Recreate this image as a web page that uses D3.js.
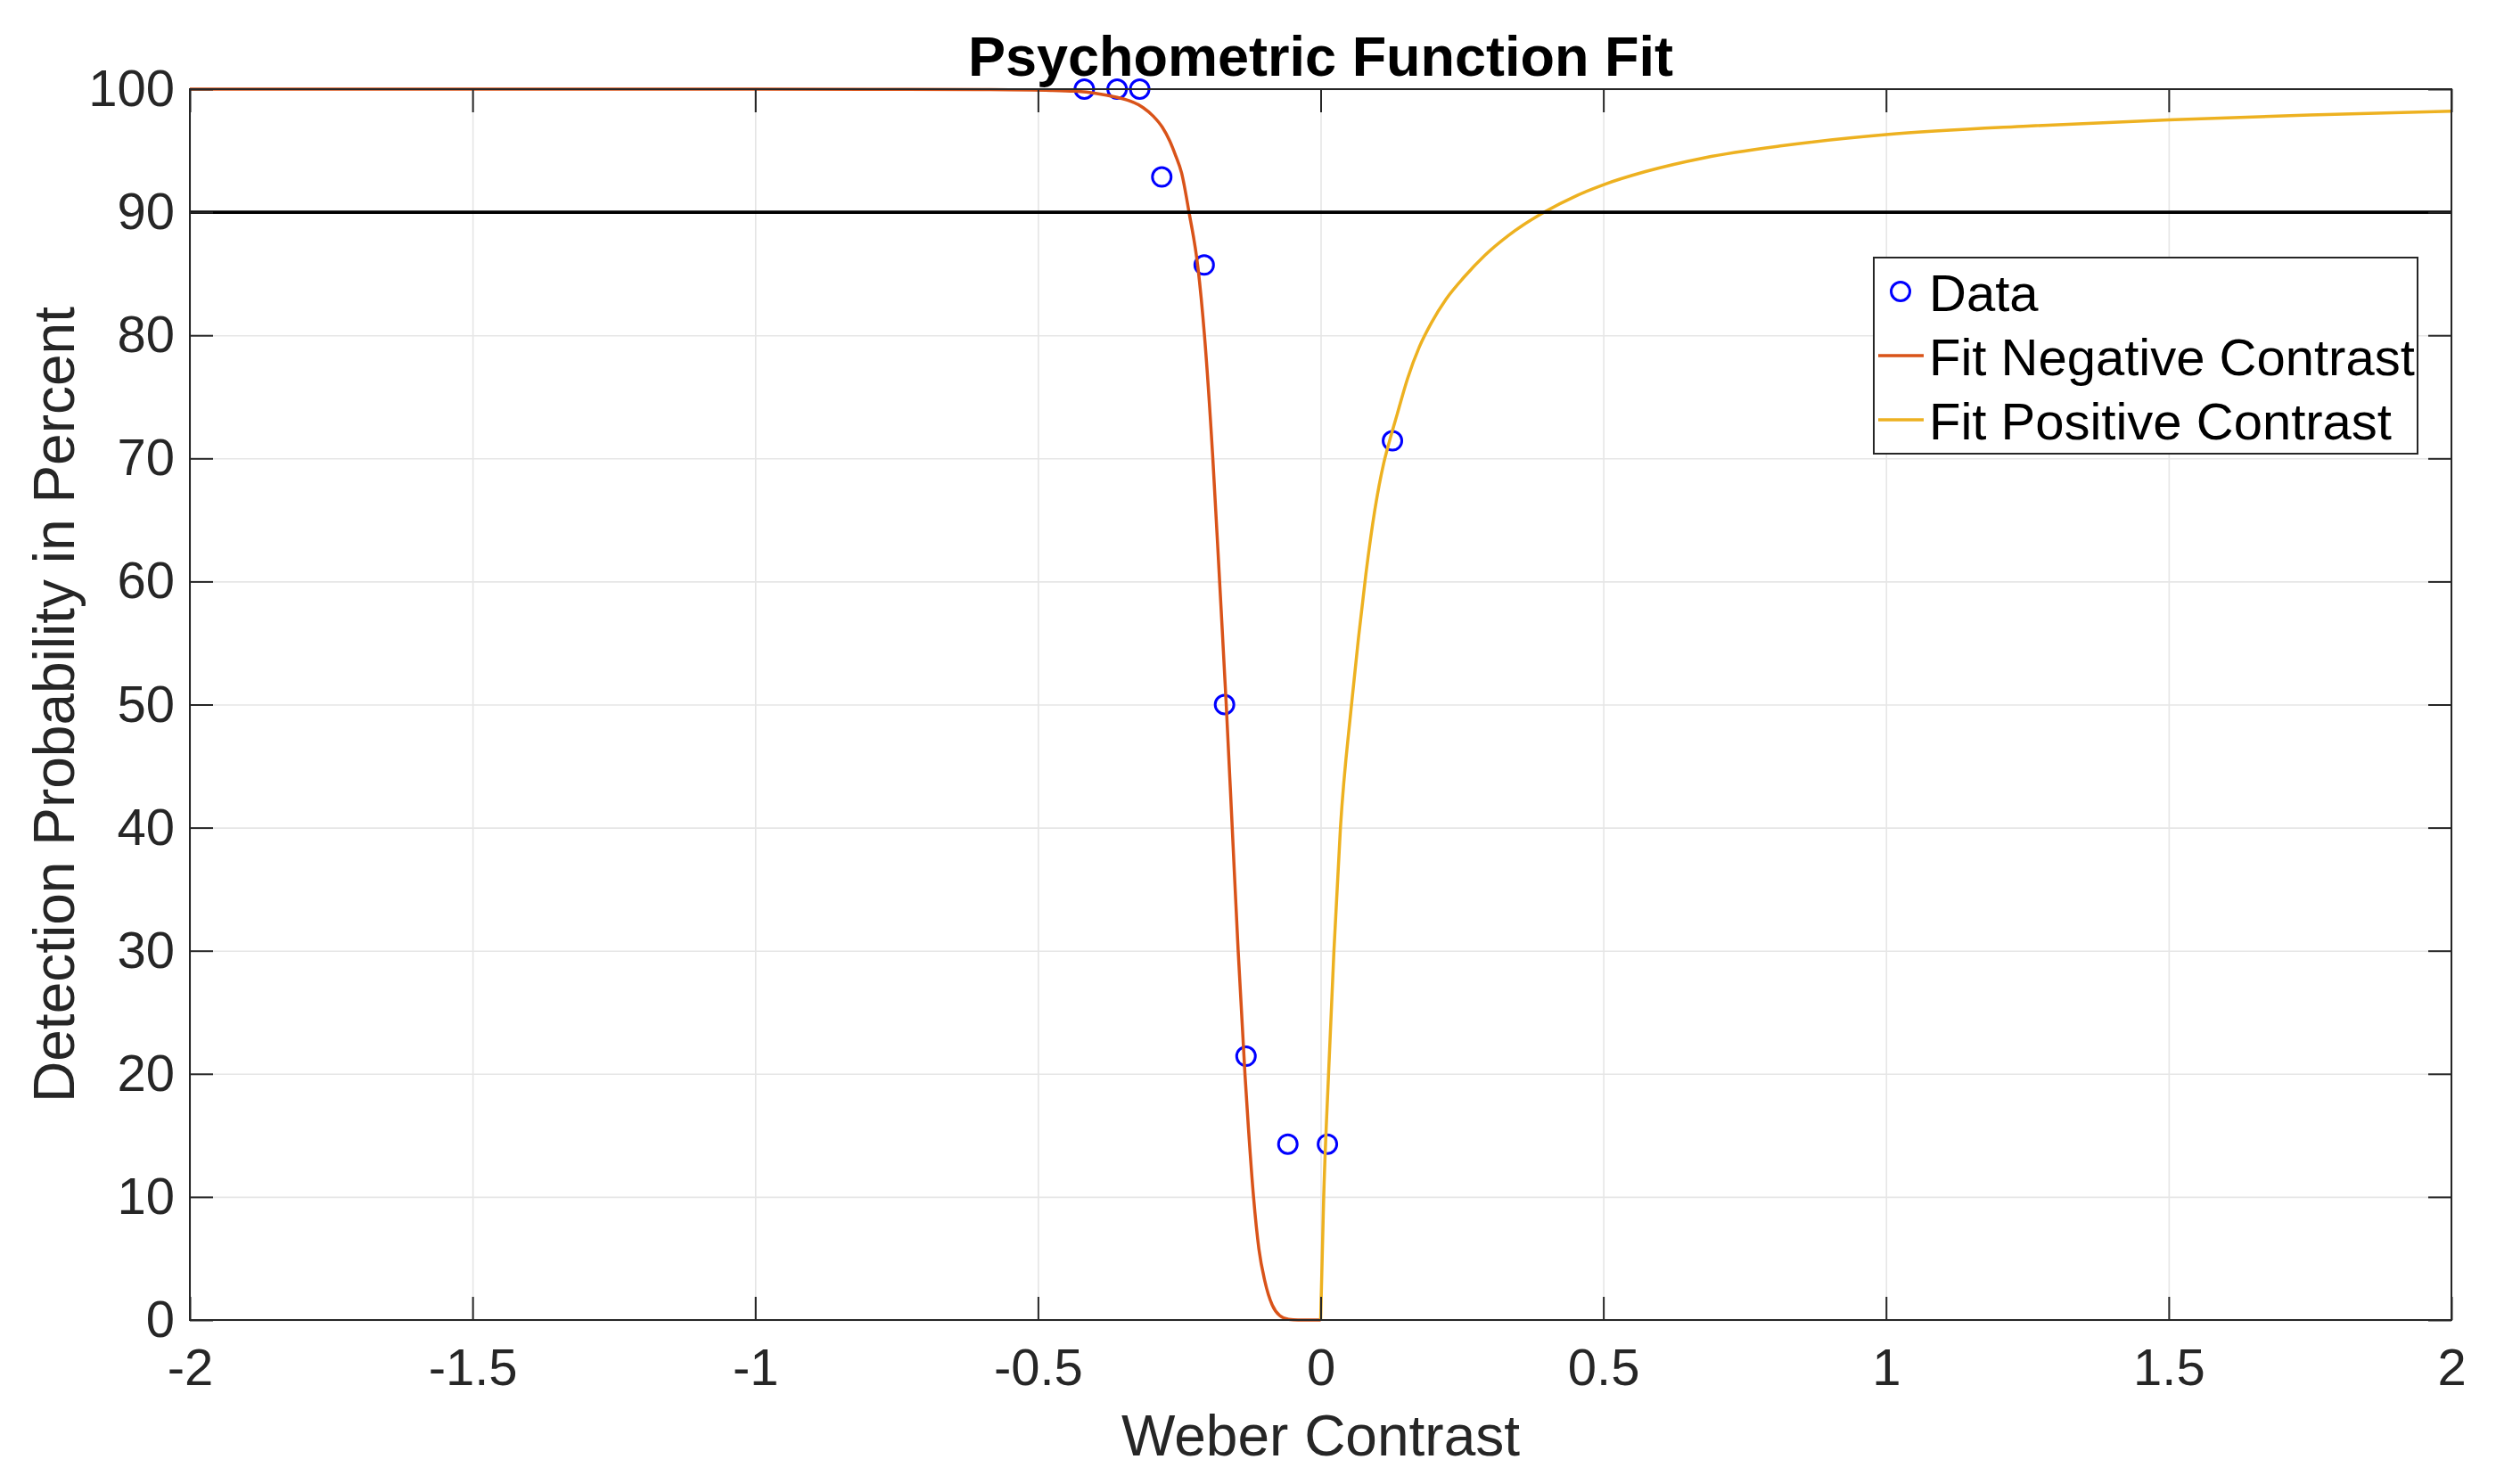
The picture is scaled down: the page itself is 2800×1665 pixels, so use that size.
<!DOCTYPE html>
<html>
<head>
<meta charset="utf-8">
<script src="https://cdn.jsdelivr.net/npm/d3@7"></script>
<style>
  body { margin: 0; background: #fff; }
  svg { display: block; font-family: "Liberation Sans", Arial, Helvetica, sans-serif; }
</style>
</head>
<body>
<svg id="chart"></svg>
<script>

var xTicks = [-2, -1.5, -1, -0.5, 0, 0.5, 1, 1.5, 2];
var xTickLabels = ["-2", "-1.5", "-1", "-0.5", "0", "0.5", "1", "1.5", "2"];
var yTicks = [0, 10, 20, 30, 40, 50, 60, 70, 80, 90, 100];
var yTickLabels = ["0", "10", "20", "30", "40", "50", "60", "70", "80", "90", "100"];

// measured points (Weber contrast, percent detected)
var dataX = [-0.418, -0.360, -0.320, -0.281, -0.206, -0.170, -0.132, -0.058, 0.012, 0.127];
var dataY = [100, 100, 100, 92.86, 85.71, 50, 21.43, 14.29, 14.29, 71.43];

// fitted curve, negative contrast
var negFitX = [-2, -1.2, -0.8, -0.6, -0.477, -0.435, -0.398, -0.362, -0.335, -0.314, -0.296,
  -0.28, -0.267, -0.2565, -0.246, -0.2328, -0.217, -0.2055, -0.1907,
  -0.1787, -0.167, -0.1564, -0.1459, -0.1339, -0.1276, -0.1187, -0.1093, -0.0987, -0.0856,
  -0.0724, -0.0566, -0.04, 0];
var negFitY = [100, 100, 99.99, 99.96, 99.9, 99.83, 99.66, 99.35, 99.0, 98.5, 97.8,
  96.9, 95.8, 94.6, 93.2, 90, 85.5, 80, 70,
  60, 50, 40, 30, 20, 15.5, 10, 5.8, 3.16, 1.21,
  0.36, 0.05, 0, 0];

// fitted curve, positive contrast
var posFitX = [0, 0.0054, 0.014, 0.0235, 0.035, 0.0537, 0.0669, 0.08, 0.0958, 0.1115, 0.1221,
  0.1352, 0.1536, 0.1746, 0.1957, 0.222, 0.2535, 0.2904, 0.3323, 0.3954, 0.4533, 0.5,
  0.5743, 0.6793, 0.8161, 1.0, 1.25, 1.5, 1.75, 2.0];
var posFitY = [0, 10, 20, 30, 40, 49.6, 55.4, 60.6, 65.8, 69.6, 71.46,
  73.56, 76.47, 79.06, 81.0, 82.95, 84.72, 86.5, 88.12, 90, 91.36, 92.23,
  93.3, 94.43, 95.4, 96.3, 97.0, 97.5, 97.9, 98.2];

var threshold = 90;

var legendNames = ["Data", "Fit Negative Contrast", "Fit Positive Contrast"];

var svgWidth = 2800, svgHeight = 1665;
var plotLeft = 213, plotRight = 2750, plotTop = 100, plotBottom = 1481;
var tickLen = 26;
var axisColor = "#262626";

var svg = d3.select("#chart")
    .attr("width", svgWidth)
    .attr("height", svgHeight);

svg.append("rect")
    .attr("width", svgWidth)
    .attr("height", svgHeight)
    .style("fill", "#fff");

var x = d3.scaleLinear().domain([-2, 2]).range([plotLeft, plotRight]);
var y = d3.scaleLinear().domain([0, 100]).range([plotBottom, plotTop]);

// grid
svg.append("g")
    .attr("transform", "translate(0," + plotBottom + ")")
    .call(d3.axisBottom(x).tickValues(xTicks).tickSize(-(plotBottom - plotTop)).tickFormat(""))
    .call(function(g) {
        g.select(".domain").remove();
        g.selectAll("line").style("stroke", "#e6e6e6").style("stroke-width", 1.6);
    });

svg.append("g")
    .attr("transform", "translate(" + plotLeft + ",0)")
    .call(d3.axisLeft(y).tickValues(yTicks).tickSize(-(plotRight - plotLeft)).tickFormat(""))
    .call(function(g) {
        g.select(".domain").remove();
        g.selectAll("line").style("stroke", "#e6e6e6").style("stroke-width", 1.6);
    });

// data circles
svg.selectAll("circle.data")
    .data(dataX)
    .enter()
    .append("circle")
    .attr("class", "data")
    .attr("cx", function(d) { return x(d); })
    .attr("cy", function(d, i) { return y(dataY[i]); })
    .attr("r", 10.5)
    .style("fill", "none")
    .style("stroke", "#0000ff")
    .style("stroke-width", 3);

var line = d3.line()
    .x(function(d) { return x(d[0]); })
    .y(function(d) { return y(d[1]); })
    .curve(d3.curveMonotoneX);

svg.append("path")
    .datum(d3.zip(negFitX, negFitY))
    .attr("d", line)
    .style("fill", "none")
    .style("stroke", "#d95319")
    .style("stroke-width", 3.5);

svg.append("path")
    .datum(d3.zip(posFitX, posFitY))
    .attr("d", line)
    .style("fill", "none")
    .style("stroke", "#edb120")
    .style("stroke-width", 3.5);

svg.append("line")
    .attr("x1", x(-2))
    .attr("x2", x(2))
    .attr("y1", y(threshold))
    .attr("y2", y(threshold))
    .style("stroke", "#000")
    .style("stroke-width", 3.8);

// axes, ticks pointing inward on all four sides
function styleAxis(g) {
    g.select(".domain").remove();
    g.selectAll("line").style("stroke", axisColor).style("stroke-width", 2);
    g.selectAll("text").style("fill", axisColor).style("font-size", "58px");
}

svg.append("g")
    .attr("transform", "translate(0," + plotBottom + ")")
    .call(d3.axisBottom(x).tickValues(xTicks).tickSize(-tickLen).tickPadding(32)
        .tickFormat(function(d, i) { return xTickLabels[i]; }))
    .call(styleAxis);

svg.append("g")
    .attr("transform", "translate(0," + plotTop + ")")
    .call(d3.axisTop(x).tickValues(xTicks).tickSize(-tickLen).tickFormat(""))
    .call(styleAxis);

svg.append("g")
    .attr("transform", "translate(" + plotLeft + ",0)")
    .call(d3.axisLeft(y).tickValues(yTicks).tickSize(-tickLen).tickPadding(17)
        .tickFormat(function(d, i) { return yTickLabels[i]; }))
    .call(styleAxis);

svg.append("g")
    .attr("transform", "translate(" + plotRight + ",0)")
    .call(d3.axisRight(y).tickValues(yTicks).tickSize(-tickLen).tickFormat(""))
    .call(styleAxis);

svg.append("rect")
    .attr("x", plotLeft)
    .attr("y", plotTop)
    .attr("width", plotRight - plotLeft)
    .attr("height", plotBottom - plotTop)
    .style("fill", "none")
    .style("stroke", axisColor)
    .style("stroke-width", 2);

// title and labels
svg.append("text")
    .attr("x", (plotLeft + plotRight) / 2)
    .attr("y", 85)
    .attr("text-anchor", "middle")
    .style("font-size", "63px")
    .style("font-weight", "bold")
    .style("fill", "#000")
    .text("Psychometric Function Fit");

svg.append("text")
    .attr("x", (plotLeft + plotRight) / 2)
    .attr("y", 1633)
    .attr("text-anchor", "middle")
    .style("font-size", "64px")
    .style("fill", axisColor)
    .text("Weber Contrast");

svg.append("text")
    .attr("transform", "translate(83," + (plotTop + plotBottom) / 2 + ") rotate(-90)")
    .attr("text-anchor", "middle")
    .style("font-size", "64px")
    .style("fill", axisColor)
    .text("Detection Probability in Percent");

// legend
var legend = svg.append("g");

legend.append("rect")
    .attr("x", 2102)
    .attr("y", 289)
    .attr("width", 610)
    .attr("height", 220)
    .style("fill", "#fff")
    .style("stroke", axisColor)
    .style("stroke-width", 2);

legend.append("circle")
    .attr("cx", 2132)
    .attr("cy", 327)
    .attr("r", 10.5)
    .style("fill", "none")
    .style("stroke", "#0000ff")
    .style("stroke-width", 3);

var legendColors = ["#d95319", "#edb120"];
legend.selectAll("line")
    .data(legendColors)
    .enter()
    .append("line")
    .attr("x1", 2107)
    .attr("x2", 2158)
    .attr("y1", function(d, i) { return 399 + i * 72; })
    .attr("y2", function(d, i) { return 399 + i * 72; })
    .style("stroke", function(d) { return d; })
    .style("stroke-width", 3.5);

legend.selectAll("text")
    .data(legendNames)
    .enter()
    .append("text")
    .attr("x", 2164)
    .attr("y", function(d, i) { return 349 + i * 72; })
    .style("font-size", "58px")
    .style("fill", "#000")
    .text(function(d) { return d; });

</script>
</body>
</html>
